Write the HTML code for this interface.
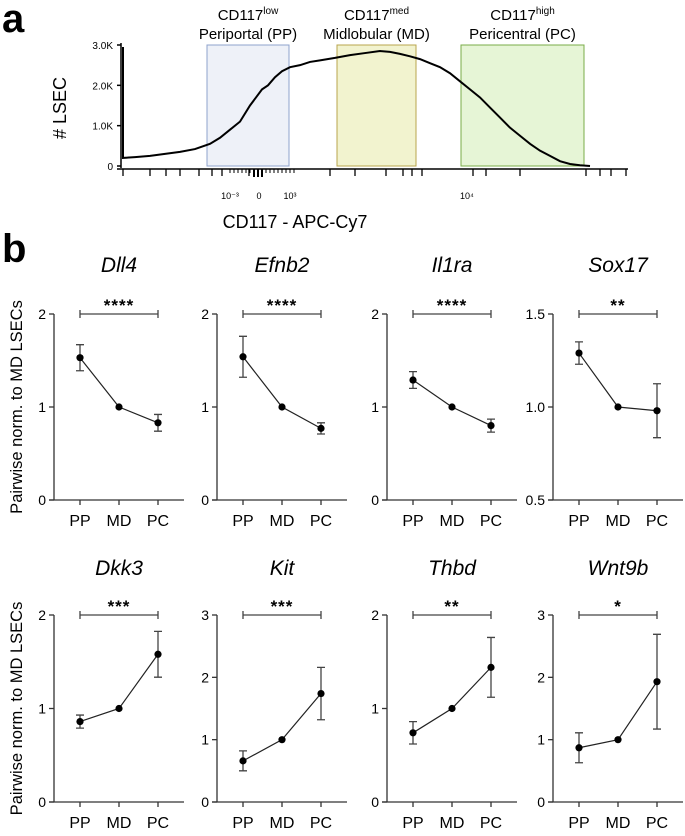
<!DOCTYPE html>
<html><head><meta charset="utf-8"><style>
html,body{margin:0;padding:0;background:#fff;}
svg text{font-family:"Liberation Sans",sans-serif;}
</style></head><body>
<svg id="fig" width="685" height="831" viewBox="0 0 685 831" xmlns="http://www.w3.org/2000/svg">
<text x="2" y="32" font-size="40" font-weight="bold">a</text>
<text x="2" y="262" font-size="40" font-weight="bold">b</text>
<g id="hist"></g>
<g id="panels"></g>
</svg>
<script>
const NS="http://www.w3.org/2000/svg";
function mk(tag,attrs,parent,txt){const e=document.createElementNS(NS,tag);for(const k in attrs)e.setAttribute(k,attrs[k]);if(txt!==undefined)e.textContent=txt;parent.appendChild(e);return e;}

// histogram data (x in pixel-space channel units, counts in K)
const histX=[123,135,150,165,180,195,210,220,230,240,250,256,262,268,275,282,290,300,310,320,335,350,365,380,390,400,410,420,430,440,450,460,470,480,490,500,510,520,530,540,550,560,570,580,590];
const histY=[0.2,0.22,0.25,0.3,0.35,0.42,0.55,0.7,0.9,1.1,1.5,1.7,1.9,2.0,2.2,2.35,2.45,2.5,2.58,2.62,2.68,2.75,2.8,2.85,2.83,2.78,2.72,2.65,2.55,2.45,2.3,2.1,1.9,1.7,1.45,1.2,0.95,0.75,0.55,0.38,0.25,0.12,0.05,0.02,0];
const yTicksHist=[0,1,2,3];
const yTickLabelsHist=["0","1.0K","2.0K","3.0K"];
const gates=[{name:"gate-pp",x0:207,x1:289,fill:"#eef1f8",stroke:"#8fa3cc",l1:"CD117",sup:"low",l2:"Periportal (PP)"},
{name:"gate-md",x0:337,x1:416,fill:"#f2f3cf",stroke:"#b8a54e",l1:"CD117",sup:"med",l2:"Midlobular (MD)"},
{name:"gate-pc",x0:461,x1:584,fill:"#e6f5d6",stroke:"#7aac48",l1:"CD117",sup:"high",l2:"Pericentral (PC)"}];

// line panel data
const genes=["Dll4","Efnb2","Il1ra","Sox17","Dkk3","Kit","Thbd","Wnt9b"];
const groups=["PP","MD","PC"];
const means=[[1.53,1,0.83],[1.54,1,0.77],[1.29,1,0.80],[1.29,1,0.98],[0.86,1,1.58],[0.66,1,1.74],[0.74,1,1.44],[0.87,1,1.93]];
const errs=[[0.14,0,0.09],[0.22,0,0.06],[0.09,0,0.07],[0.06,0,0.145],[0.07,0,0.245],[0.16,0,0.42],[0.12,0,0.32],[0.24,0,0.76]];
const yMin=[0,0,0,0.5,0,0,0,0];
const yMax=[2,2,2,1.5,2,3,2,3];
const yTickLabels=[["0","1","2"],["0","1","2"],["0","1","2"],["0.5","1.0","1.5"],["0","1","2"],["0","1","2","3"],["0","1","2"],["0","1","2","3"]];
const sig=["****","****","****","**","***","***","**","*"];

// draw histogram
const H=document.getElementById('hist');
const hx0=121,hy0=166,hyTop=45,hmax=3.0;
const hy=v=>hy0-(v/hmax)*(hy0-hyTop);
gates.forEach(g=>{
 const r=mk('rect',{x:g.x0,y:hyTop,width:g.x1-g.x0,height:hy0-hyTop,fill:g.fill,stroke:g.stroke,'stroke-width':1},H);
 
 const cx=(g.x0+g.x1)/2;
 const t=mk('text',{x:cx,y:20,'text-anchor':'middle','font-size':15},H);
 
 mk('tspan',{},t,g.l1);mk('tspan',{'font-size':10,dy:-6},t,g.sup);
 const t2=mk('text',{x:cx,y:39,'text-anchor':'middle','font-size':15},H,g.l2);
 
});
let d=`M${hx0+2},${hy(2.95)} L${hx0+2},${hy(histY[0])}`;
histX.forEach((x,i)=>{d+=` L${x},${hy(histY[i])}`;});
const hp=mk('path',{d:d,fill:'none',stroke:'#000','stroke-width':2},H);

const hya=mk('line',{x1:hx0,y1:hyTop-2,x2:hx0,y2:hy0+2,stroke:'#000','stroke-width':1.5},H);

const hxa=mk('line',{x1:hx0-4,y1:hy0+3,x2:628,y2:hy0+3,stroke:'#000','stroke-width':1.5},H);

yTicksHist.forEach((v,i)=>{
 mk('line',{x1:hx0-4,y1:hy(v),x2:hx0,y2:hy(v),stroke:'#000','stroke-width':1.5},H);
 const t=mk('text',{x:hx0-8,y:hy(v)+4,'text-anchor':'end','font-size':10},H,yTickLabelsHist[i]);
 
});
[123,150,166,180,199,212,222,249,330,355,386,403,412,422,473,486,520,586,600,611,626].forEach(x=>mk('line',{x1:x,y1:hy0+3,x2:x,y2:hy0+10,stroke:'#000','stroke-width':1.3},H));
for(let x=230;x<296;x+=4)mk('line',{x1:x,y1:hy0+3,x2:x,y2:hy0+(x>250&&x<266?11:7),stroke:'#000','stroke-width':x>252&&x<264?2:1},H);
[[230,"10\u207B\u00B3"],[259,"0"],[290,"10\u00B3"],[467,"10\u2074"]].forEach(a=>{const t=mk('text',{x:a[0],y:199,'text-anchor':'middle','font-size':9},H,a[1]);});
const hxt=mk('text',{x:295,y:228,'text-anchor':'middle','font-size':18},H,"CD117 - APC-Cy7");

const hyt=mk('text',{x:0,y:0,'text-anchor':'middle','font-size':18,transform:'translate(66,108) rotate(-90)'},H,"# LSEC");


// line panels
const P=document.getElementById('panels');
const axX=[54,217,387,553];
const rows=[{top:314,bot:500,title:272},{top:615,bot:802,title:575}];
genes.forEach((gname,gi)=>{
 const row=rows[Math.floor(gi/4)],ax=axX[gi%4];
 const g=mk('g',{},P);
 
 const ys=v=>row.bot-(v-yMin[gi])/(yMax[gi]-yMin[gi])*(row.bot-row.top);
 const xs=i=>ax+26+i*39;
 const tt=mk('text',{x:ax+65,y:row.title,'text-anchor':'middle','font-size':21,'font-style':'italic'},g,gname);
 
 const ya=mk('line',{x1:ax,y1:row.top,x2:ax,y2:row.bot,stroke:'#333','stroke-width':1.3},g);
 
 const xa=mk('line',{x1:ax-5,y1:row.bot,x2:ax+130,y2:row.bot,stroke:'#333','stroke-width':1.3},g);
 
 const labs=yTickLabels[gi],n=labs.length;
 labs.forEach((l,i)=>{const v=yMin[gi]+i*(yMax[gi]-yMin[gi])/(n-1);
  mk('line',{x1:ax-5,y1:ys(v),x2:ax,y2:ys(v),stroke:'#333','stroke-width':1.3},g);
  const t=mk('text',{x:ax-8,y:ys(v)+5,'text-anchor':'end','font-size':14},g,l);
  });
 groups.forEach((gr,i)=>{mk('line',{x1:xs(i),y1:row.bot,x2:xs(i),y2:row.bot+5,stroke:'#333','stroke-width':1.3},g);
  const t=mk('text',{x:xs(i),y:row.bot+26,'text-anchor':'middle','font-size':16},g,gr);
  });
 const m=means[gi],e=errs[gi];
 const pl=mk('polyline',{points:m.map((v,i)=>xs(i)+','+ys(v)).join(' '),fill:'none',stroke:'#222','stroke-width':1.2},g);
 
 m.forEach((v,i)=>{
  if(e[i]>0){const eb=mk('path',{d:`M${xs(i)},${ys(v-e[i])}V${ys(v+e[i])}M${xs(i)-4},${ys(v-e[i])}h8M${xs(i)-4},${ys(v+e[i])}h8`,stroke:'#444','stroke-width':1.3,fill:'none'},g);
   }
  const c=mk('circle',{cx:xs(i),cy:ys(v),r:3.6,fill:'#000'},g);
  
 });
 const sb=mk('path',{d:`M${xs(0)},${row.top-4}v8M${xs(0)},${row.top}H${xs(2)}M${xs(2)},${row.top-4}v8`,stroke:'#444','stroke-width':1.3,fill:'none'},g);
 
 const st=mk('text',{x:xs(1),y:row.top-3,'text-anchor':'middle','font-size':17,'font-weight':'bold','letter-spacing':'1'},g,sig[gi]);
 
});
[rows[0],rows[1]].forEach(r=>{const t=mk('text',{x:0,y:0,'text-anchor':'middle','font-size':16.5,transform:`translate(22,${(r.top+r.bot)/2}) rotate(-90)`},P,"Pairwise norm. to MD LSECs");
 });
</script>
</body></html>
